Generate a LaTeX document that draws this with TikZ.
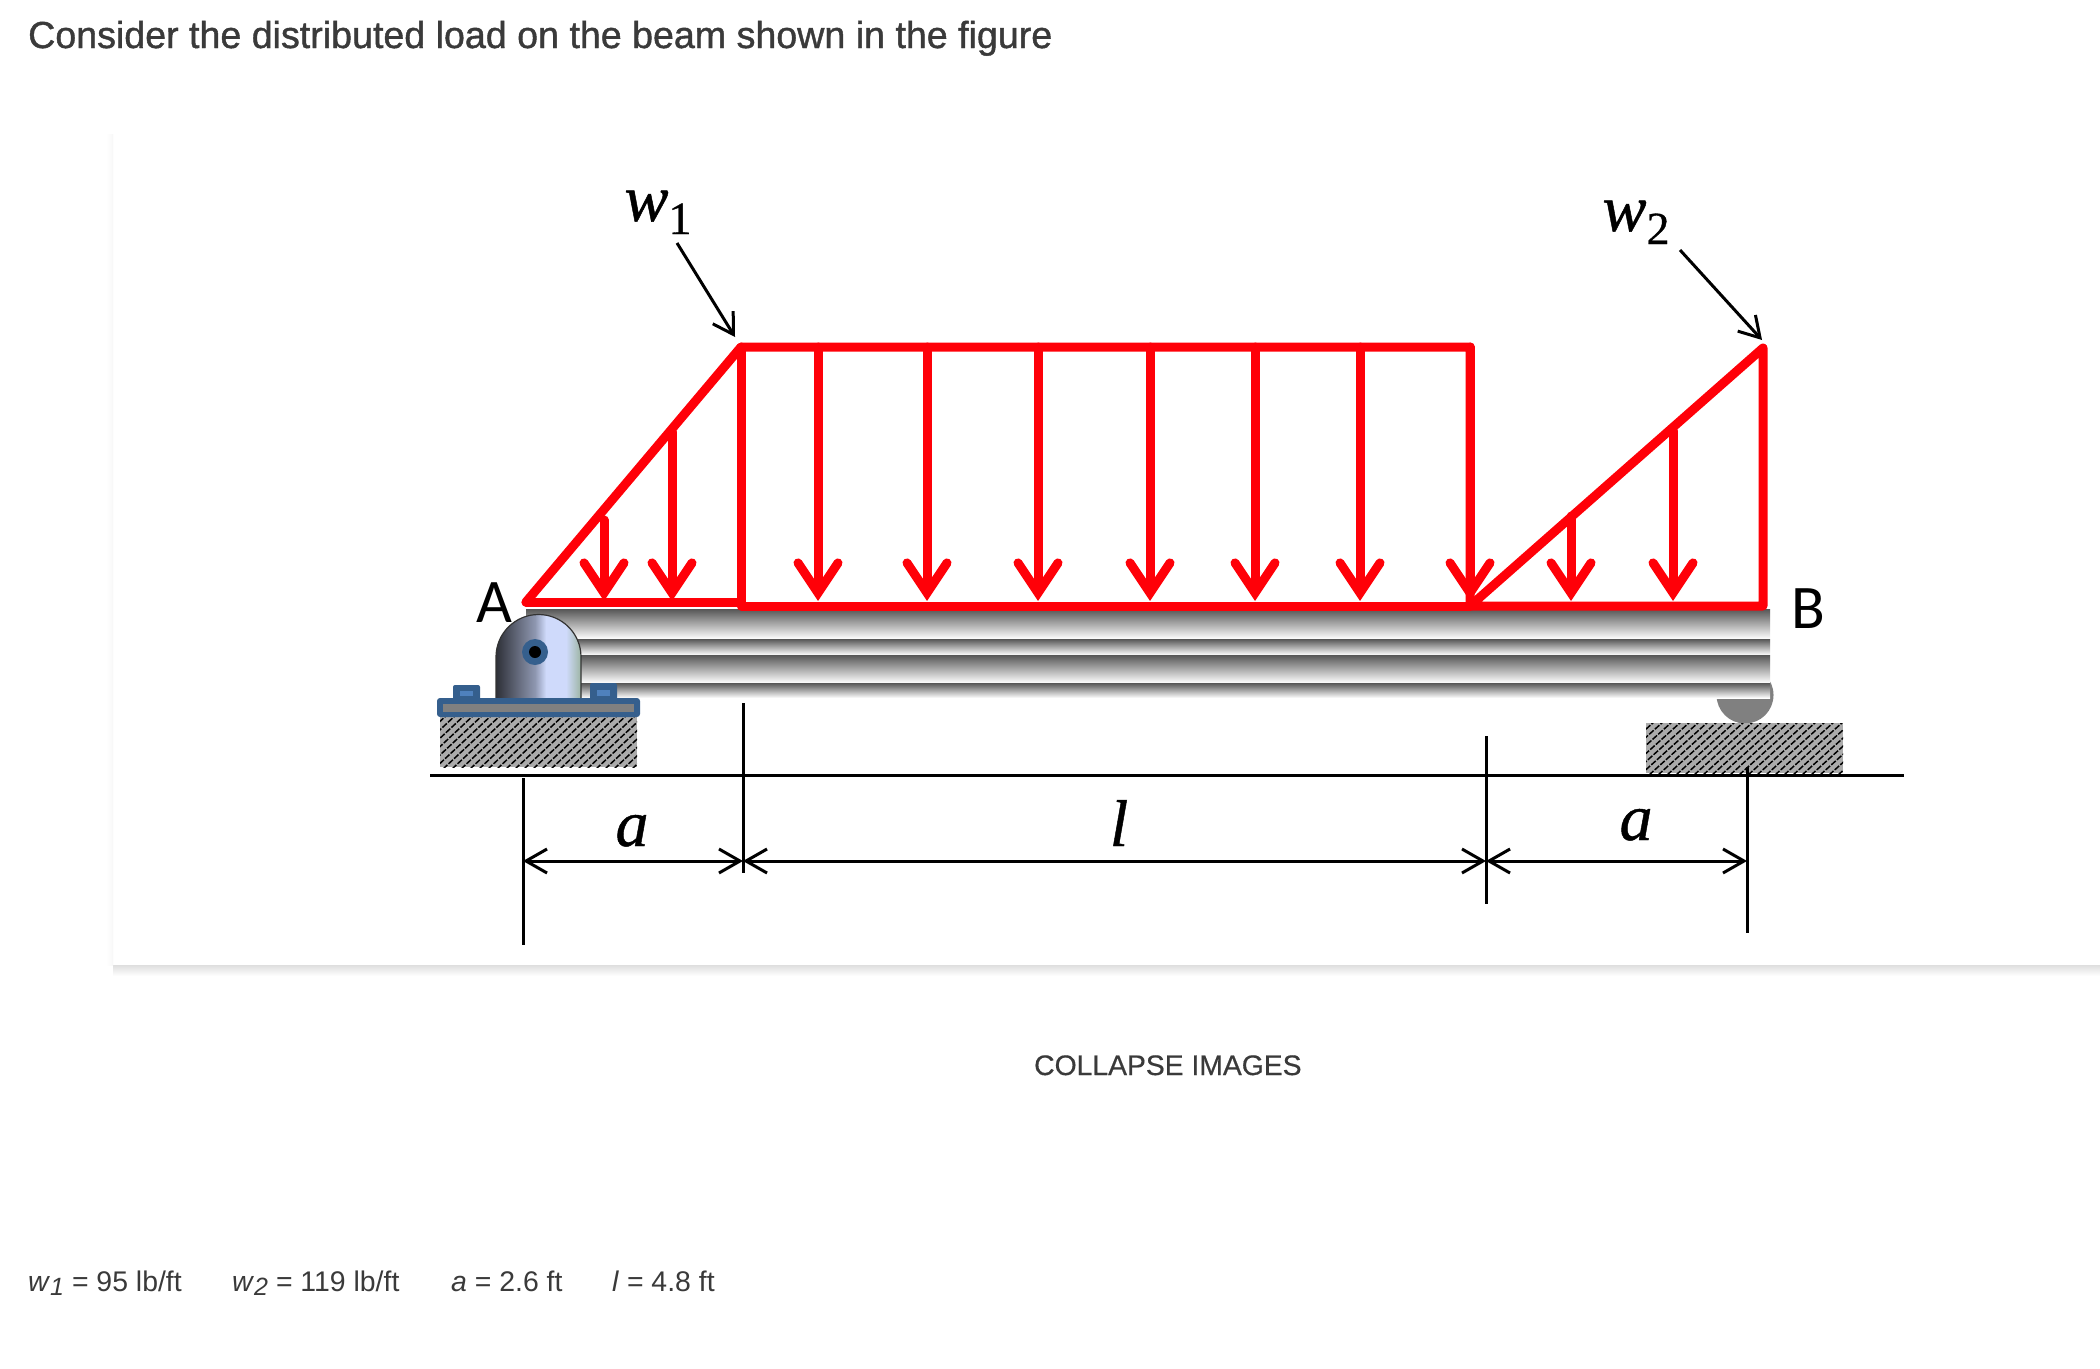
\documentclass[tikz,border=0pt]{standalone}
\usepackage{fontspec}
\setmainfont{Liberation Sans}
\newfontfamily\titlef[FakeBold=1.1]{Liberation Sans}
\newfontfamily\medf[FakeBold=0.5]{Liberation Sans}
\newfontfamily\serifm[FakeBold=0.7]{Liberation Serif}
\newfontfamily\calib{Carlito}
\usetikzlibrary{arrows.meta}
\definecolor{redl}{HTML}{FF0008}
\definecolor{plate}{HTML}{355F8D}
\definecolor{tabin}{HTML}{4F81BD}
\definecolor{txt}{HTML}{3A3A3A}
\definecolor{domeA}{HTML}{2E3038}
\definecolor{domeB}{HTML}{8E97B0}
\definecolor{domeC}{HTML}{CFDAFB}
\definecolor{domeD}{HTML}{9DB5A4}
\tikzset{
  x=1pt,y=-1pt,
  redline/.style={draw=redl,line width=9pt,line join=round,line cap=round},
  redarrow/.style={redline,-{Straight Barb[length=30pt,width=40pt,line cap=round]}},
  dimline/.style={draw=black,line width=3pt},
  dimarrow/.style={dimline,{Straight Barb[length=21pt,width=24pt]}-{Straight Barb[length=21pt,width=24pt]}},
  leader/.style={draw=black,line width=3pt,-{Straight Barb[length=20pt,width=24pt]}},
  txtsmall/.style={anchor=base west,inner sep=0pt,text=txt,font=\fontsize{28.4}{30}\selectfont},
  bigm/.style={anchor=base,inner sep=0pt,font=\fontsize{66}{70}\selectfont\serifm\itshape},
  lett/.style={anchor=base west,inner sep=0pt,font=\fontsize{62}{66}\selectfont\calib},
  groundfill/.style={fill=black!33},
}
\newcommand{\hatchbox}[4]{%
  \begin{scope}
    \clip (#1,#2) rectangle (#3,#4);
    \fill[groundfill] (#1,#2) rectangle (#3,#4);
    \foreach \k in {0,9,...,300}{
      \draw[black,line width=1.5pt,dash pattern=on 6pt off 1.6pt] (#1+\k-60,#4+2) -- (#1+\k,#2-2);
    }
  \end{scope}}
\newcommand{\band}[2]{\shade[top color=black!66,middle color=black!47,bottom color=white] (526,#1) rectangle (1770,#2);}
\begin{document}
\begin{tikzpicture}
\useasboundingbox (0,0) rectangle (2100,1368);
\fill[white] (0,0) rectangle (2100,1368);
% card shadow
\shade[top color=black!13,bottom color=white] (113,965) rectangle (2100,976);
\shade[left color=white,right color=black!3] (106,134) rectangle (113,965);
% title
\node[anchor=base west,inner sep=0pt,text=txt,font=\fontsize{37.6}{40}\selectfont\titlef] (title) at (28,48) {Consider the distributed load on the beam shown in the figure};
% roller B
\fill[black!50] (1745,695) circle (28.5);
% beam
\band{609}{639}\band{639}{655}\band{655}{683}\band{683}{698}
% hatched blocks
\hatchbox{440}{715}{637}{767}
\hatchbox{1646}{723}{1843}{773}
% pin support A
\begin{scope}
  \clip (496,698) -- (496,657) arc[start angle=180,end angle=360,radius=42.5] -- (581,698) -- cycle;
  \shade[left color=domeA,right color=domeB] (496,610) rectangle (535,698);
  \shade[left color=domeB,right color=domeC] (535,610) rectangle (546,698);
  \fill[domeC] (546,610) rectangle (566,698);
  \shade[left color=domeC,right color=domeD] (566,610) rectangle (581,698);
\end{scope}
\draw[black!80,line width=1.2pt] (496,698) -- (496,657) arc[start angle=180,end angle=360,radius=42.5] -- (581,698);
\fill[plate] (535,652) circle (13);
\fill[black] (535,652) circle (6);
\fill[plate,rounded corners=2pt] (453,700) -- (453,685) -- (480,685) -- (480,700) -- cycle;
\fill[plate,rounded corners=2pt] (590,700) -- (590,683) -- (617,683) -- (617,700) -- cycle;
\fill[tabin] (460,691) rectangle (473,696);
\fill[tabin] (597,690) rectangle (610,696);
\fill[plate,rounded corners=3pt] (437,698) rectangle (640,717);
\fill[black!50] (443,704) rectangle (634,712);
% ground line
\coordinate (g1) at (430,775); \coordinate (g2) at (1904,775);
\draw[dimline] (g1) -- (g2);
% extension lines
\coordinate (e1t) at (523,778); \coordinate (e1b) at (523,945);
\coordinate (e2t) at (743,703); \coordinate (e2b) at (743,873);
\coordinate (e3t) at (1486,736); \coordinate (e3b) at (1486,904);
\coordinate (e4t) at (1747,767); \coordinate (e4b) at (1747,933);
\foreach \n in {1,2,3,4}{\draw[dimline] (e\n t) -- (e\n b);}
% dimension arrows
\coordinate (d1) at (523,861); \coordinate (d2) at (743,861); \coordinate (d3) at (1486,861); \coordinate (d4) at (1747,861);
\draw[dimarrow] (d1) -- (d2);
\draw[dimarrow] (d2) -- (d3);
\draw[dimarrow] (d3) -- (d4);
\node[bigm] (la1) at (632,846) {a};
\node[bigm] (ll) at (1119,846) {l};
\node[bigm] (la2) at (1636,840) {a};
% red load
\coordinate (ra) at (526,602); \coordinate (rb) at (741,347); \coordinate (rc) at (1470,347);
\coordinate (rd) at (1470,606); \coordinate (re) at (1763,348); \coordinate (rf) at (1763,606);
\coordinate (rg) at (741,602); \coordinate (rh) at (741,606);
\foreach \x/\y/\n in {604/520/a,672/432/b,818/347/c,927/347/d,1038/347/e,1150/347/f,1255/347/g,1360/347/h,1470/347/i,1571/516/j,1673/431/k}{
  \coordinate (t\n) at (\x,\y);
  \coordinate (h\n) at (\x,601);
  \draw[redarrow] (t\n) -- (h\n);
}
\draw[redline] (ra) -- (rb) -- (rc) -- (rd);
\draw[redline] (rd) -- (re) -- (rf) -- (rd);
\draw[redline] (ra) -- (rg);
\draw[redline] (rb) -- (rh) -- (rd);
% labels w
\node[bigm] (w1) at (658,221) {w\raisebox{-13pt}{\fontsize{46}{50}\selectfont\upshape 1}};
\node[bigm] (w2) at (1636,231) {w\raisebox{-13pt}{\fontsize{46}{50}\selectfont\upshape 2}};
\coordinate (w1s) at (677,243); \coordinate (w1e) at (735,337);
\coordinate (w2s) at (1680,250); \coordinate (w2e) at (1762,340);
\draw[leader] (w1s) -- (w1e);
\draw[leader] (w2s) -- (w2e);
\node[lett] (A) at (476,622) {A};
\node[lett] (B) at (1791,628) {B};
% texts
\node[txtsmall,font=\fontsize{28.3}{30}\selectfont\medf] (col) at (1034,1075) {COLLAPSE IMAGES};
\node[txtsmall] (v1) at (28,1291) {\textit{w}\raisebox{-0.3ex}{\fontsize{25}{26}\selectfont\textit{1}} = 95 lb/ft};
\node[txtsmall] (v2) at (232,1291) {\textit{w}\raisebox{-0.3ex}{\fontsize{25}{26}\selectfont\textit{2}} = 119 lb/ft};
\node[txtsmall] (v3) at (451,1291) {\textit{a} = 2.6 ft};
\node[txtsmall] (v4) at (612,1291) {\textit{l} = 4.8 ft};
\end{tikzpicture}
\end{document}
